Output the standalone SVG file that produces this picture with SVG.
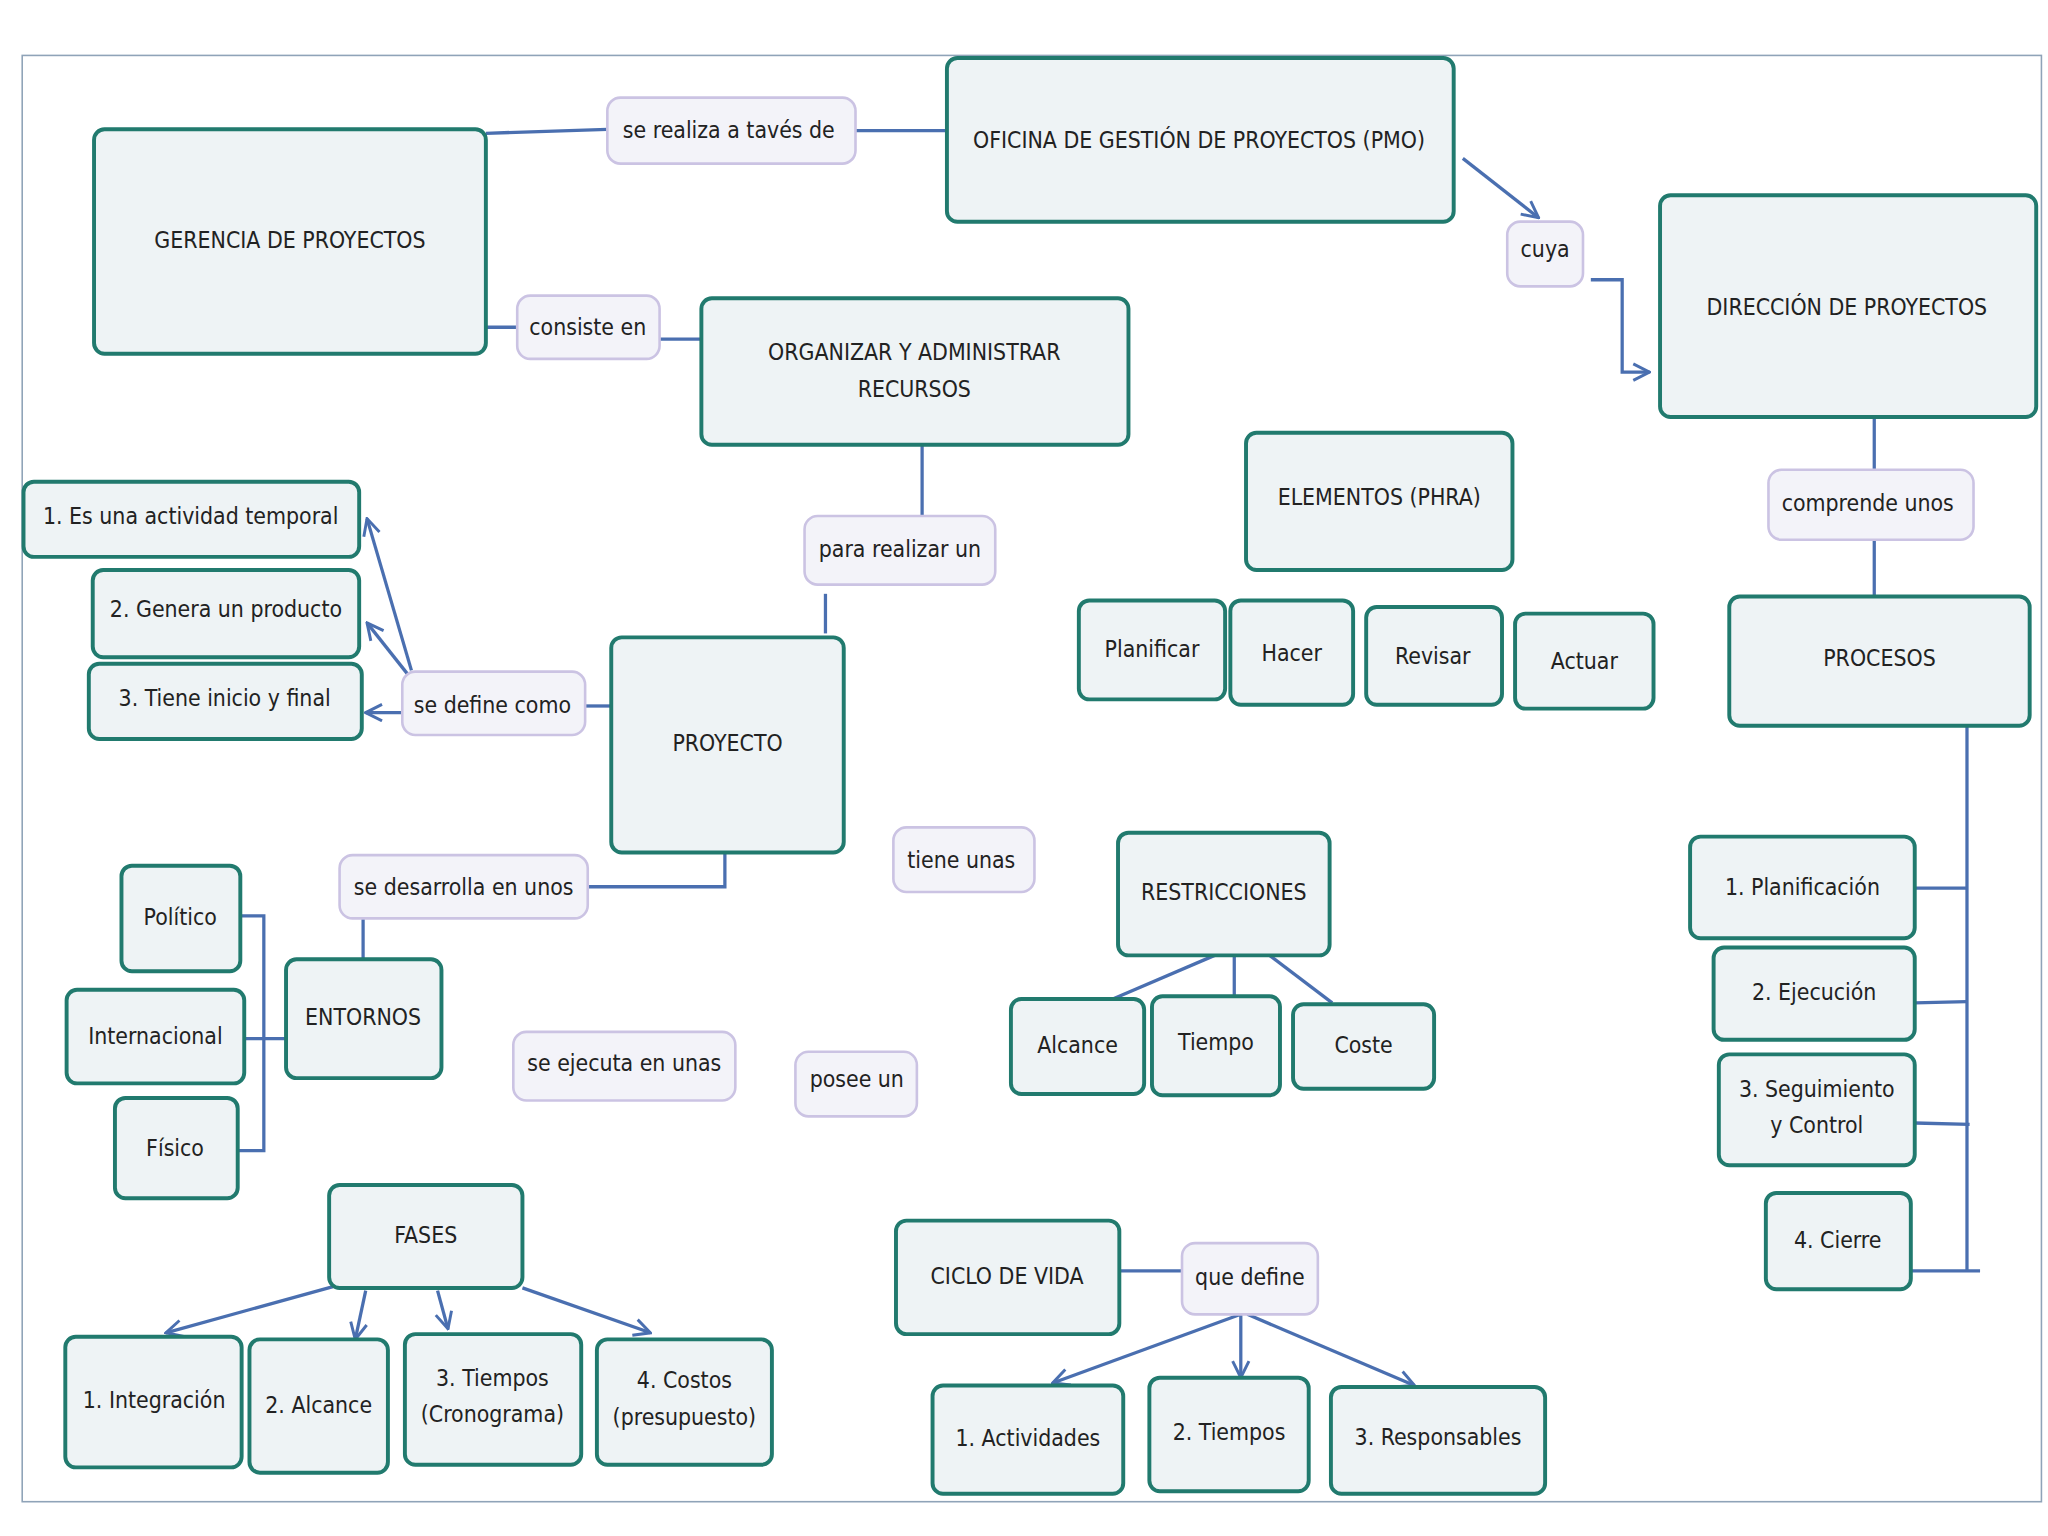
<svg xmlns="http://www.w3.org/2000/svg" width="2048" height="1536" viewBox="0 0 2048 1536">
<defs>
<style>
.n rect{fill:#eef3f5;stroke:#217a6e;stroke-width:3}
.l rect{fill:#f3f3f9;stroke:#cbc3e3;stroke-width:2}
text{font-family:"DejaVu Sans Condensed","DejaVu Sans","Liberation Sans",sans-serif;font-size:17.5px;fill:#222;text-anchor:middle;dominant-baseline:middle}
.c path{fill:none;stroke:#4a6fb0;stroke-width:2.5}
</style>
<marker id="a" viewBox="0 0 12 12" refX="11" refY="6" markerWidth="15" markerHeight="15" orient="auto" markerUnits="userSpaceOnUse"><path d="M1,1 L11,6 L1,11" fill="none" stroke="#4a6fb0" stroke-width="1.8"/></marker>
</defs>
<rect width="2048" height="1536" fill="#fff"/>
<g transform="scale(1.3061,1.3196)">
<rect x="17" y="42" width="1546" height="1096" fill="none" stroke="#8fa3b8" stroke-width="1.2"/>
<g class="c" id="connectors">
<path d="M372,101 L465,98"/><path d="M655,99 L725,99"/>
<path d="M372,248 L396,248"/><path d="M505,257 L537,257"/>
<path d="M1120,120 L1178,165" marker-end="url(#a)"/>
<path d="M1218,212 L1242,212 L1242,282 L1263,282" marker-end="url(#a)"/>
<path d="M1435,316 L1435,356"/><path d="M1435,409 L1435,452"/>
<path d="M706,337 L706,391"/><path d="M632,450 L632,480"/>
<path d="M468,535 L448,535"/>
<path d="M315,508 L281,393" marker-end="url(#a)"/>
<path d="M313,512 L281,472" marker-end="url(#a)"/>
<path d="M308,540 L280,540" marker-end="url(#a)"/>
<path d="M555,646 L555,672 L450,672"/><path d="M278,696 L278,727"/>
<path d="M184,694 L202,694 L202,872 L182,872"/><path d="M187,787 L219,787"/>
<path d="M930,724 L852,757"/><path d="M945,724 L945,757"/><path d="M972,724 L1020,760"/>
<path d="M1506,550 L1506,963"/><path d="M1466,673 L1506,673"/><path d="M1466,760 L1506,759"/><path d="M1466,851 L1508,852"/><path d="M1463,963 L1516,963"/>
<path d="M255,975 L127,1010" marker-end="url(#a)"/>
<path d="M280,978 L272,1015" marker-end="url(#a)"/>
<path d="M335,978 L343,1007" marker-end="url(#a)"/>
<path d="M400,976 L498,1010" marker-end="url(#a)"/>
<path d="M857,963 L905,963"/>
<path d="M950,996 L806,1048" marker-end="url(#a)"/>
<path d="M950,996 L950,1044" marker-end="url(#a)"/>
<path d="M955,996 L1083,1050" marker-end="url(#a)"/>
</g>
<g class="n" id="gerencia"><rect x="72" y="98" width="300" height="170" rx="8"/><text x="222" y="183">GERENCIA DE PROYECTOS</text></g>
<g class="n" id="oficina"><rect x="725" y="44" width="388" height="124" rx="8"/><text x="918" y="107">OFICINA DE GESTIÓN DE PROYECTOS (PMO)</text></g>
<g class="n" id="direccion"><rect x="1271" y="148" width="288" height="168" rx="8"/><text x="1414" y="234">DIRECCIÓN DE PROYECTOS</text></g>
<g class="n" id="organizar"><rect x="537" y="226" width="327" height="111" rx="8"/><text x="700" y="268">ORGANIZAR Y ADMINISTRAR</text><text x="700" y="296">RECURSOS</text></g>
<g class="n" id="elementos"><rect x="954" y="328" width="204" height="104" rx="8"/><text x="1056" y="378">ELEMENTOS (PHRA)</text></g>
<g class="n" id="procesos"><rect x="1324" y="452" width="230" height="98" rx="8"/><text x="1439" y="500">PROCESOS</text></g>
<g class="n" id="p1"><rect x="18" y="365" width="257" height="57" rx="8"/><text x="146" y="392">1. Es una actividad temporal</text></g>
<g class="n" id="p2"><rect x="71" y="432" width="204" height="66" rx="8"/><text x="173" y="463">2. Genera un producto</text></g>
<g class="n" id="p3"><rect x="68" y="503" width="209" height="57" rx="8"/><text x="172" y="530">3. Tiene inicio y final</text></g>
<g class="n" id="proyecto"><rect x="468" y="483" width="178" height="163" rx="8"/><text x="557" y="564">PROYECTO</text></g>
<g class="n" id="planificar"><rect x="826" y="455" width="112" height="75" rx="8"/><text x="882" y="493">Planificar</text></g>
<g class="n" id="hacer"><rect x="942" y="455" width="94" height="79" rx="8"/><text x="989" y="496">Hacer</text></g>
<g class="n" id="revisar"><rect x="1046" y="460" width="104" height="74" rx="8"/><text x="1097" y="498">Revisar</text></g>
<g class="n" id="actuar"><rect x="1160" y="465" width="106" height="72" rx="8"/><text x="1213" y="502">Actuar</text></g>
<g class="n" id="restricciones"><rect x="856" y="631" width="162" height="93" rx="8"/><text x="937" y="677">RESTRICCIONES</text></g>
<g class="n" id="r-alcance"><rect x="774" y="757" width="102" height="72" rx="8"/><text x="825" y="793">Alcance</text></g>
<g class="n" id="r-tiempo"><rect x="882" y="755" width="98" height="75" rx="8"/><text x="931" y="791">Tiempo</text></g>
<g class="n" id="r-coste"><rect x="990" y="761" width="108" height="64" rx="8"/><text x="1044" y="793">Coste</text></g>
<g class="n" id="politico"><rect x="93" y="656" width="91" height="80" rx="8"/><text x="138" y="696">Político</text></g>
<g class="n" id="entornos"><rect x="219" y="727" width="119" height="90" rx="8"/><text x="278" y="772">ENTORNOS</text></g>
<g class="n" id="internacional"><rect x="51" y="750" width="136" height="71" rx="8"/><text x="119" y="786">Internacional</text></g>
<g class="n" id="fisico"><rect x="88" y="832" width="94" height="76" rx="8"/><text x="134" y="871">Físico</text></g>
<g class="n" id="pr1"><rect x="1294" y="634" width="172" height="77" rx="8"/><text x="1380" y="673">1. Planificación</text></g>
<g class="n" id="pr2"><rect x="1312" y="718" width="154" height="70" rx="8"/><text x="1389" y="753">2. Ejecución</text></g>
<g class="n" id="pr3"><rect x="1316" y="799" width="150" height="84" rx="8"/><text x="1391" y="826">3. Seguimiento</text><text x="1391" y="854">y Control</text></g>
<g class="n" id="pr4"><rect x="1352" y="904" width="111" height="73" rx="8"/><text x="1407" y="941">4. Cierre</text></g>
<g class="n" id="fases"><rect x="252" y="898" width="148" height="78" rx="8"/><text x="326" y="937">FASES</text></g>
<g class="n" id="f1"><rect x="50" y="1013" width="135" height="99" rx="8"/><text x="118" y="1062">1. Integración</text></g>
<g class="n" id="f2"><rect x="191" y="1015" width="106" height="101" rx="8"/><text x="244" y="1066">2. Alcance</text></g>
<g class="n" id="f3"><rect x="310" y="1011" width="135" height="99" rx="8"/><text x="377" y="1045">3. Tiempos</text><text x="377" y="1073">(Cronograma)</text></g>
<g class="n" id="f4"><rect x="457" y="1015" width="134" height="95" rx="8"/><text x="524" y="1047">4. Costos</text><text x="524" y="1075">(presupuesto)</text></g>
<g class="n" id="ciclo"><rect x="686" y="925" width="171" height="86" rx="8"/><text x="771" y="968">CICLO DE VIDA</text></g>
<g class="n" id="c1"><rect x="714" y="1050" width="146" height="82" rx="8"/><text x="787" y="1091">1. Actividades</text></g>
<g class="n" id="c2"><rect x="880" y="1044" width="122" height="86" rx="8"/><text x="941" y="1086">2. Tiempos</text></g>
<g class="n" id="c3"><rect x="1019" y="1051" width="164" height="81" rx="8"/><text x="1101" y="1090">3. Responsables</text></g>
<g class="l" id="l1"><rect x="465" y="74" width="190" height="50" rx="10"/><text x="558" y="100">se realiza a tavés de</text></g>
<g class="l" id="l2"><rect x="396" y="224" width="109" height="48" rx="10"/><text x="450" y="249">consiste en</text></g>
<g class="l" id="l3"><rect x="1154" y="168" width="58" height="49" rx="10"/><text x="1183" y="190">cuya</text></g>
<g class="l" id="l4"><rect x="1354" y="356" width="157" height="53" rx="10"/><text x="1430" y="382">comprende unos</text></g>
<g class="l" id="l5"><rect x="616" y="391" width="146" height="52" rx="10"/><text x="689" y="417">para realizar un</text></g>
<g class="l" id="l6"><rect x="308" y="509" width="140" height="48" rx="10"/><text x="377" y="535">se define como</text></g>
<g class="l" id="l7"><rect x="260" y="648" width="190" height="48" rx="10"/><text x="355" y="673">se desarrolla en unos</text></g>
<g class="l" id="l8"><rect x="684" y="627" width="108" height="49" rx="10"/><text x="736" y="653">tiene unas</text></g>
<g class="l" id="l9"><rect x="393" y="782" width="170" height="52" rx="10"/><text x="478" y="807">se ejecuta en unas</text></g>
<g class="l" id="l10"><rect x="609" y="797" width="93" height="49" rx="10"/><text x="656" y="819">posee un</text></g>
<g class="l" id="l11"><rect x="905" y="942" width="104" height="54" rx="10"/><text x="957" y="969">que define</text></g>
</g>
</svg>
